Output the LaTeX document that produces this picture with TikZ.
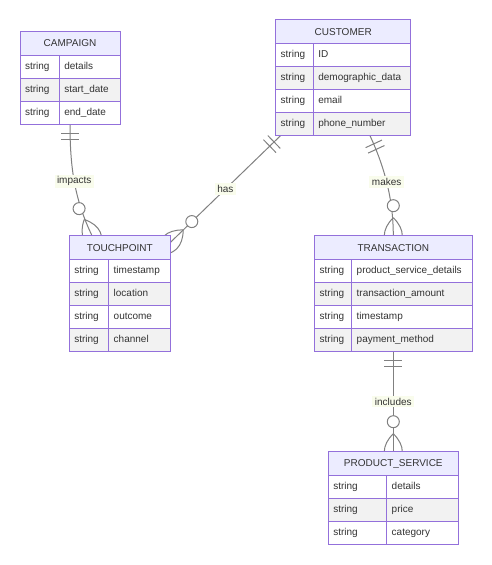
\documentclass[tikz,border=0pt]{standalone}
\usepackage{fontspec}
\setmainfont{Liberation Sans}
\usetikzlibrary{positioning, backgrounds}

\definecolor{erline}{HTML}{9370DB}
\definecolor{erhead}{HTML}{ECECFF}
\definecolor{errow}{HTML}{F2F2F2}
\definecolor{ertext}{HTML}{333333}
\definecolor{lblbg}{RGB}{249,252,236}

\begin{document}
\begin{tikzpicture}[x=1pt, y=1pt, font=\fontsize{10}{12}\selectfont, text=ertext,
  hdr/.style={draw=erline, fill=erhead, line width=1pt, minimum height=24pt, inner sep=0pt, outer sep=0pt},
  cell/.style={draw=erline, line width=1pt, minimum height=23pt, inner xsep=5pt, inner ysep=0pt, outer sep=0pt,
    text width=#1, align=left, text height=7.5pt, text depth=2.5pt},
  rowa/.style={fill=white},
  rowb/.style={fill=errow},
  rel/.style={draw=gray, line width=1pt},
  lbl/.style={fill=lblbg, inner xsep=2.5pt, inner ysep=2pt},
  oneend/.pic={\draw[rel] (9,-9) -- (9,9) (15,-9) -- (15,9);},
  manyend/.pic={
    \draw[rel, fill=white] (-30,0) circle (6pt);
    \draw[rel] (-18,0) .. controls (-6,12) and (6,12) .. (18,0) .. controls (6,-12) and (-6,-12) .. (-18,0);}]
  \useasboundingbox (0,0) rectangle (492,565);

  % CAMPAIGN
  \node[hdr, minimum width=100pt, anchor=north west] (camp) at (20,533.7) {CAMPAIGN};
  \node[cell=29.3pt, rowa, below=0pt of camp.south west, anchor=north west] (camp1t) {string};
  \node[cell=50.7pt, rowa, right=0pt of camp1t] (camp1n) {details};
  \node[cell=29.3pt, rowb, below=0pt of camp1t] (camp2t) {string};
  \node[cell=50.7pt, rowb, right=0pt of camp2t] (camp2n) {start\_date};
  \node[cell=29.3pt, rowa, below=0pt of camp2t] (camp3t) {string};
  \node[cell=50.7pt, rowa, right=0pt of camp3t] (camp3n) {end\_date};

  % CUSTOMER
  \node[hdr, minimum width=135pt, anchor=north west] (cu) at (275.7,545.3) {CUSTOMER};
  \node[cell=27.6pt, rowa, below=0pt of cu.south west, anchor=north west] (cu1t) {string};
  \node[cell=87.4pt, rowa, right=0pt of cu1t] (cu1n) {ID};
  \node[cell=27.6pt, rowb, below=0pt of cu1t] (cu2t) {string};
  \node[cell=87.4pt, rowb, right=0pt of cu2t] (cu2n) {demographic\_data};
  \node[cell=27.6pt, rowa, below=0pt of cu2t] (cu3t) {string};
  \node[cell=87.4pt, rowa, right=0pt of cu3t] (cu3n) {email};
  \node[cell=27.6pt, rowb, below=0pt of cu3t] (cu4t) {string};
  \node[cell=87.4pt, rowb, right=0pt of cu4t] (cu4n) {phone\_number};

  % TOUCHPOINT
  \node[hdr, minimum width=101pt, anchor=north west] (tp) at (69.3,329.3) {TOUCHPOINT};
  \node[cell=29.4pt, rowa, below=0pt of tp.south west, anchor=north west] (tp1t) {string};
  \node[cell=51.6pt, rowa, right=0pt of tp1t] (tp1n) {timestamp};
  \node[cell=29.4pt, rowb, below=0pt of tp1t] (tp2t) {string};
  \node[cell=51.6pt, rowb, right=0pt of tp2t] (tp2n) {location};
  \node[cell=29.4pt, rowa, below=0pt of tp2t] (tp3t) {string};
  \node[cell=51.6pt, rowa, right=0pt of tp3t] (tp3n) {outcome};
  \node[cell=29.4pt, rowb, below=0pt of tp3t] (tp4t) {string};
  \node[cell=51.6pt, rowb, right=0pt of tp4t] (tp4n) {channel};

  % TRANSACTION
  \node[hdr, minimum width=157.3pt, anchor=north west] (tr) at (314.7,329.3) {TRANSACTION};
  \node[cell=27pt, rowa, below=0pt of tr.south west, anchor=north west] (tr1t) {string};
  \node[cell=110.3pt, rowa, right=0pt of tr1t] (tr1n) {product\_service\_details};
  \node[cell=27pt, rowb, below=0pt of tr1t] (tr2t) {string};
  \node[cell=110.3pt, rowb, right=0pt of tr2t] (tr2n) {transaction\_amount};
  \node[cell=27pt, rowa, below=0pt of tr2t] (tr3t) {string};
  \node[cell=110.3pt, rowa, right=0pt of tr3t] (tr3n) {timestamp};
  \node[cell=27pt, rowb, below=0pt of tr3t] (tr4t) {string};
  \node[cell=110.3pt, rowb, right=0pt of tr4t] (tr4n) {payment\_method};

  % PRODUCT_SERVICE
  \node[hdr, minimum width=130pt, anchor=north west] (ps) at (328.3,113.3) {PRODUCT\_SERVICE};
  \node[cell=48.4pt, rowa, below=0pt of ps.south west, anchor=north west] (ps1t) {string};
  \node[cell=61.6pt, rowa, right=0pt of ps1t] (ps1n) {details};
  \node[cell=48.4pt, rowb, below=0pt of ps1t] (ps2t) {string};
  \node[cell=61.6pt, rowb, right=0pt of ps2t] (ps2n) {price};
  \node[cell=48.4pt, rowa, below=0pt of ps2t] (ps3t) {string};
  \node[cell=61.6pt, rowa, right=0pt of ps3t] (ps3n) {category};

  % relationships
  \begin{scope}[on background layer]
    \coordinate (s1) at (camp3t.south -| camp.south);
    \coordinate (e1) at ([xshift=22.7pt]tp.north west);
    \coordinate (s2) at ([xshift=4.8pt]cu4t.south west);
    \coordinate (e2) at ([yshift=-6.8pt]tp.north east);
    \coordinate (s3) at ([xshift=94.3pt]cu4t.south west);
    \coordinate (e3) at ([xshift=78.6pt]tr.north west);
    \coordinate (s4) at ([xshift=78.6pt]tr4t.south west);
    \coordinate (e4) at (s4 |- ps.north);

    \draw[rel] (s1) .. controls +(0,-45) and +(-17,35.7) .. (e1) node[lbl, pos=0.48] {impacts};
    \draw[rel] (s2) -- node[lbl] {has} (e2);
    \draw[rel] (s3) .. controls +(12,-26) and +(0,41) .. (e3) node[lbl, pos=0.52] {makes};
    \draw[rel] (s4) -- node[lbl] {includes} (e4);

    \pic[rotate=-90] at (s1) {oneend};
    \pic[rotate=-64.5] at (e1) {manyend};
    \pic[rotate=224.2] at (s2) {oneend};
    \pic[rotate=224.2] at (e2) {manyend};
    \pic[rotate=-65.2] at (s3) {oneend};
    \pic[rotate=-90] at (e3) {manyend};
    \pic[rotate=-90] at (s4) {oneend};
    \pic[rotate=-90] at (e4) {manyend};
  \end{scope}
\end{tikzpicture}
\end{document}
